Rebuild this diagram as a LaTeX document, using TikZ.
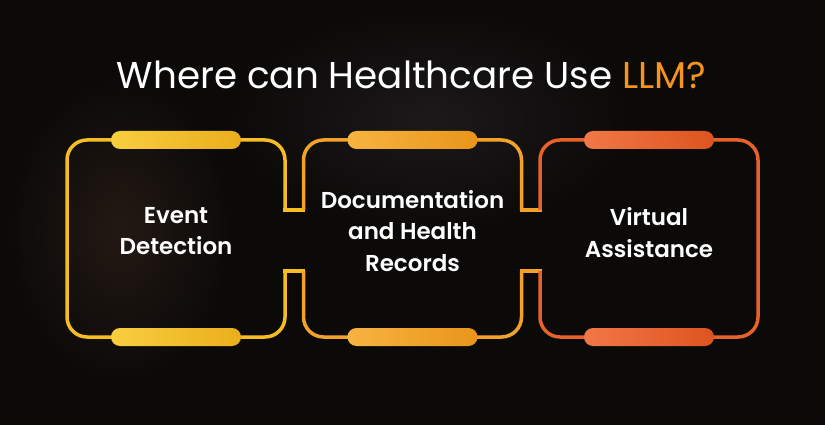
\documentclass[tikz,border=0pt]{standalone}
\usepackage{fontspec}
\setmainfont{Poppins}[BoldFont={Poppins SemiBold}]
\usetikzlibrary{calc}

\definecolor{bgdark}{HTML}{0C0A09}
\definecolor{bgwarm}{HTML}{231913}
\definecolor{bggrey}{HTML}{1B1919}
\definecolor{evcol}{HTML}{F5BD22}
\definecolor{evlight}{HTML}{F8CE3E}
\definecolor{evdark}{HTML}{EAAE1C}
\definecolor{doccol}{HTML}{F2A228}
\definecolor{doclight}{HTML}{F7B440}
\definecolor{docdark}{HTML}{E8951A}
\definecolor{vacol}{HTML}{E8612B}
\definecolor{valight}{HTML}{F27747}
\definecolor{vadark}{HTML}{DD541F}
\definecolor{llmcol}{HTML}{F7941D}

\tikzset{
  usebox/.style={minimum width=218pt, minimum height=197pt, inner sep=0pt, outer sep=0pt},
  usetext/.style={text=white, font=\bfseries\fontsize{23}{31.5}\selectfont, align=center, inner sep=0pt},
  frame/.style={line width=3.5pt, rounded corners=20pt},
  notch/.style={line width=3.5pt, line cap=rect},
  pill/.style={minimum width=130pt, minimum height=18pt, rounded corners=9pt, inner sep=0pt}
}

\begin{document}
\begin{tikzpicture}[x=1pt, y=-1pt]
\useasboundingbox (0,0) rectangle (825,425);
\fill[bgdark] (0,0) rectangle (825,425);
\shade[inner color=bgwarm, outer color=bgdark] (120,230) ellipse (110 and 150);
\shade[inner color=bggrey, outer color=bgdark] (430,120) ellipse (200 and 110);

\node[text=white, font=\fontsize{37.3}{42}\selectfont, anchor=base, inner sep=0pt] (title) at (411.5,89) {Where can Healthcare Use \textcolor{llmcol}{LLM?}};

\node[usebox] (ev) at (176,238.5) {};
\node[usebox] (doc) at (412.5,238.5) {};
\node[usebox] (va) at (649,238.5) {};

\draw[notch, evcol] ($(ev.east)+(0,-28.5)$) -- ($(doc.west)+(0,-28.5)$);
\draw[notch, evcol] ($(ev.east)+(0,32.5)$) -- ($(doc.west)+(0,32.5)$);
\draw[notch, doccol] ($(doc.east)+(0,-28.5)$) -- ($(va.west)+(0,-28.5)$);
\draw[notch, doccol] ($(doc.east)+(0,32.5)$) -- ($(va.west)+(0,32.5)$);

\draw[frame, evcol] ($(ev.east)+(0,-28.5)$) -- (ev.north east) -- (ev.north west) -- (ev.south west) -- (ev.south east) -- ($(ev.east)+(0,32.5)$);
\draw[frame, doccol] ($(doc.west)+(0,-28.5)$) -- (doc.north west) -- (doc.north east) -- ($(doc.east)+(0,-28.5)$);
\draw[frame, doccol] ($(doc.east)+(0,32.5)$) -- (doc.south east) -- (doc.south west) -- ($(doc.west)+(0,32.5)$);
\draw[frame, vacol] ($(va.west)+(0,32.5)$) -- (va.south west) -- (va.south east) -- (va.north east) -- (va.north west) -- ($(va.west)+(0,-28.5)$);

\node[pill, left color=evlight, right color=evdark] (evtop) at (ev.north) {};
\node[pill, left color=evlight, right color=evdark] (evbot) at (ev.south) {};
\node[pill, left color=doclight, right color=docdark] (doctop) at (doc.north) {};
\node[pill, left color=doclight, right color=docdark] (docbot) at (doc.south) {};
\node[pill, left color=valight, right color=vadark] (vatop) at (va.north) {};
\node[pill, left color=valight, right color=vadark] (vabot) at (va.south) {};

\node[usetext] (evtext) at ($(ev)+(0,-7.5)$) {Event\\Detection};
\node[usetext] (doctext) at ($(doc)+(0,-7.5)$) {Documentation\\and Health\\Records};
\node[usetext] (vatext) at ($(va)+(0,-6)$) {Virtual\\Assistance};
\end{tikzpicture}
\end{document}
